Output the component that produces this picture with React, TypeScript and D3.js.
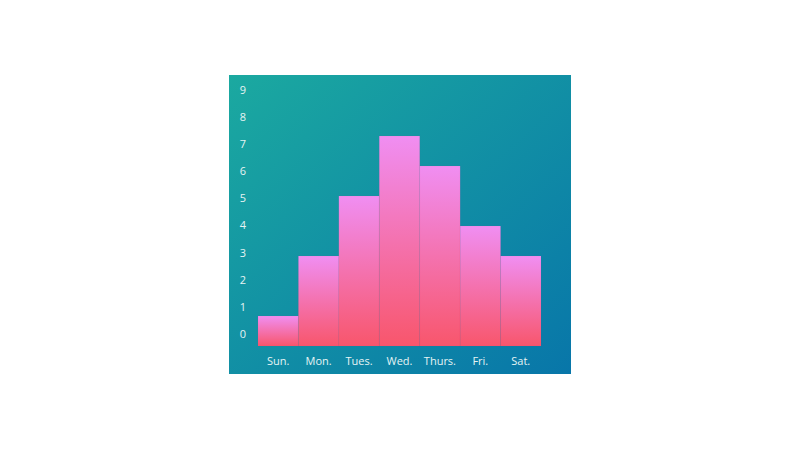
import * as d3 from 'd3';

const days = ['Sun.', 'Mon.', 'Tues.', 'Wed.', 'Thurs.', 'Fri.', 'Sat.'];
const values = [1, 3, 5, 7, 6, 4, 3];
const yTicks = [0, 1, 2, 3, 4, 5, 6, 7, 8, 9];

const width = 800;
const height = 450;
const panel = { x: 229, y: 75, w: 342, h: 299 };

export default function App() {
  // bar scales
  const x = d3.scaleBand<string>()
    .domain(days)
    .range([258, 541])
    .padding(0);

  const y = d3.scaleLinear()
    .domain([0, 9])
    .range([346, 76]);

  // the axis labels sit on their own evenly spaced rows
  const yLabel = d3.scaleLinear()
    .domain([0, 9])
    .range([334, 90]);

  const font = '"Open Sans", "Noto Sans", sans-serif';

  return (
    <svg
      width={width}
      height={height}
      style={{ position: 'absolute', left: 0, top: 0, display: 'block' }}
    >
      <defs>
        <linearGradient id="bg" x1="0" y1="0" x2="1" y2="1">
          <stop offset="0%" stopColor="#1ba9a0" />
          <stop offset="100%" stopColor="#0876a9" />
        </linearGradient>
        <linearGradient id="bar" x1="0" y1="0" x2="0" y2="1">
          <stop offset="0%" stopColor="#f08ef2" />
          <stop offset="100%" stopColor="#f8566c" />
        </linearGradient>
      </defs>

      <rect x={0} y={0} width={width} height={height} fill="#ffffff" />
      <rect x={panel.x} y={panel.y} width={panel.w} height={panel.h} fill="url(#bg)" />

      {days.map((d, i) => (
        <rect
          key={d}
          x={x(d)}
          y={y(values[i])}
          width={x.bandwidth()}
          height={y(0) - y(values[i])}
          fill="url(#bar)"
          stroke="rgba(200,60,120,0.07)"
          strokeWidth={1}
        />
      ))}

      {yTicks.map(t => (
        <text
          key={t}
          x={243}
          y={yLabel(t)}
          dy="0.35em"
          textAnchor="middle"
          fill="#e6f4f4"
          fontFamily={font}
          fontSize={11}
        >
          {t}
        </text>
      ))}

      {days.map(d => (
        <text
          key={d}
          x={(x(d) as number) + x.bandwidth() / 2}
          y={361}
          dy="0.35em"
          textAnchor="middle"
          fill="#e6f4f4"
          fontFamily={font}
          fontSize={11}
        >
          {d}
        </text>
      ))}
    </svg>
  );
}
